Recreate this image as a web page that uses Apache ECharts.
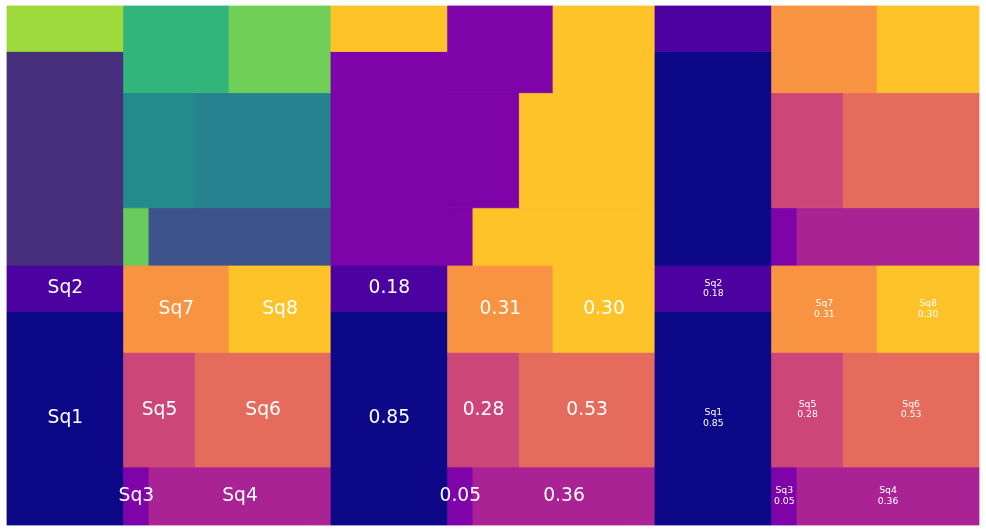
<!DOCTYPE html>
<html>
<head>
<meta charset="utf-8">
<script src="https://cdn.jsdelivr.net/npm/echarts@6/dist/echarts.min.js"></script>
<style>
  html, body { margin: 0; padding: 0; background: #ffffff; }
  #chart { width: 986px; height: 532px; }
</style>
</head>
<body>
<div id="chart"></div>
<script>
const labels = ["Sq1", "Sq2", "Sq3", "Sq4", "Sq5", "Sq6", "Sq7", "Sq8"];
const values = [0.85, 0.18, 0.05, 0.36, 0.28, 0.53, 0.31, 0.30];

// colour palettes used by the six panels
const plasmaColors = ["#0d0887", "#4c02a1", "#7e03a8", "#a92395", "#cc4778", "#e56b5d", "#f89441", "#fdc328"];
const viridisColors = ["#472f7d", "#9dd93b", "#67cc5c", "#3c548b", "#228c8d", "#26828e", "#31b57b", "#70cf57"];
const twoColors = ["#7e03a8", "#fdc328"];

// squarify layout (same algorithm as the python package), normalised to 100 x 100
function normalizeSizes(sizes, dx, dy) {
  const total = sizes.reduce((a, b) => a + b, 0);
  return sizes.map((s) => (s * dx * dy) / total);
}

function layoutRow(sizes, x, y, dx, dy) {
  const width = sizes.reduce((a, b) => a + b, 0) / dy;
  const rects = [];
  for (const size of sizes) {
    rects.push({ x: x, y: y, dx: width, dy: size / width });
    y += size / width;
  }
  return rects;
}

function layoutCol(sizes, x, y, dx, dy) {
  const height = sizes.reduce((a, b) => a + b, 0) / dx;
  const rects = [];
  for (const size of sizes) {
    rects.push({ x: x, y: y, dx: size / height, dy: height });
    x += size / height;
  }
  return rects;
}

function layout(sizes, x, y, dx, dy) {
  return dx >= dy ? layoutRow(sizes, x, y, dx, dy) : layoutCol(sizes, x, y, dx, dy);
}

function leftover(sizes, x, y, dx, dy) {
  const covered = sizes.reduce((a, b) => a + b, 0);
  if (dx >= dy) {
    const width = covered / dy;
    return [x + width, y, dx - width, dy];
  }
  const height = covered / dx;
  return [x, y + height, dx, dy - height];
}

function worstRatio(sizes, x, y, dx, dy) {
  return Math.max(...layout(sizes, x, y, dx, dy).map((r) => Math.max(r.dx / r.dy, r.dy / r.dx)));
}

function squarify(sizes, x, y, dx, dy) {
  if (sizes.length === 0) return [];
  if (sizes.length === 1) return layout(sizes, x, y, dx, dy);
  let i = 1;
  while (i < sizes.length && worstRatio(sizes.slice(0, i), x, y, dx, dy) >= worstRatio(sizes.slice(0, i + 1), x, y, dx, dy)) {
    i++;
  }
  const current = sizes.slice(0, i);
  const rest = sizes.slice(i);
  const [lx, ly, ldx, ldy] = leftover(current, x, y, dx, dy);
  return layout(current, x, y, dx, dy).concat(squarify(rest, lx, ly, ldx, ldy));
}

const rects = squarify(normalizeSizes(values, 100, 100), 0, 0, 100, 100);
const rectData = rects.map((r, i) => [r.x, r.y, r.dx, r.dy, i]);

const panels = [
  { left: 7, top: 6, height: 260, colors: viridisColors, text: "none" },
  { left: 331, top: 6, height: 260, colors: twoColors, text: "none" },
  { left: 655, top: 6, height: 260, colors: plasmaColors, text: "none" },
  { left: 7, top: 266, height: 259, colors: plasmaColors, text: "label" },
  { left: 331, top: 266, height: 259, colors: plasmaColors, text: "value" },
  { left: 655, top: 266, height: 259, colors: plasmaColors, text: "both" },
];

function makeRender(panel) {
  return function (params, api) {
    const x = api.value(0), y = api.value(1), w = api.value(2), h = api.value(3);
    const idx = api.value(4);
    const p0 = api.coord([x, y + h]);
    const size = api.size([w, h]);
    const cx = p0[0] + size[0] / 2;
    const cy = p0[1] + size[1] / 2;
    const color = panel.colors[idx % panel.colors.length];
    const children = [
      {
        type: "rect",
        shape: { x: p0[0], y: p0[1], width: size[0], height: size[1] },
        // stroke in the fill colour hides anti-aliasing seams between tiles
        style: { fill: color, stroke: color, lineWidth: 0.8 },
      },
    ];
    if (panel.text !== "none") {
      let txt, fontSize;
      if (panel.text === "label") {
        txt = labels[idx];
        fontSize = 18.7;
      } else if (panel.text === "value") {
        txt = values[idx].toFixed(2);
        fontSize = 18.7;
      } else {
        txt = labels[idx] + "\n" + values[idx].toFixed(2);
        fontSize = 9.3;
      }
      children.push({
        type: "text",
        x: cx,
        y: cy,
        z2: 10,
        style: {
          text: txt,
          fill: "#ffffff",
          font: fontSize + "px 'DejaVu Sans'",
          align: "center",
          verticalAlign: "middle",
          lineHeight: fontSize * 1.12,
        },
      });
    }
    return { type: "group", children: children };
  };
}

const chart = echarts.init(document.getElementById("chart"), null, { renderer: "canvas" });

const options = {
  animation: false,
  backgroundColor: "#ffffff",
  grid: panels.map((p) => ({ left: p.left, top: p.top, width: 324, height: p.height })),
  xAxis: panels.map((p, i) => ({ type: "value", gridIndex: i, min: 0, max: 100, show: false })),
  yAxis: panels.map((p, i) => ({ type: "value", gridIndex: i, min: 0, max: 100, show: false })),
  series: panels.map((p, i) => ({
    type: "custom",
    xAxisIndex: i,
    yAxisIndex: i,
    data: rectData,
    renderItem: makeRender(p),
    clip: false,
  })),
};

chart.setOption(options);
</script>
</body>
</html>
